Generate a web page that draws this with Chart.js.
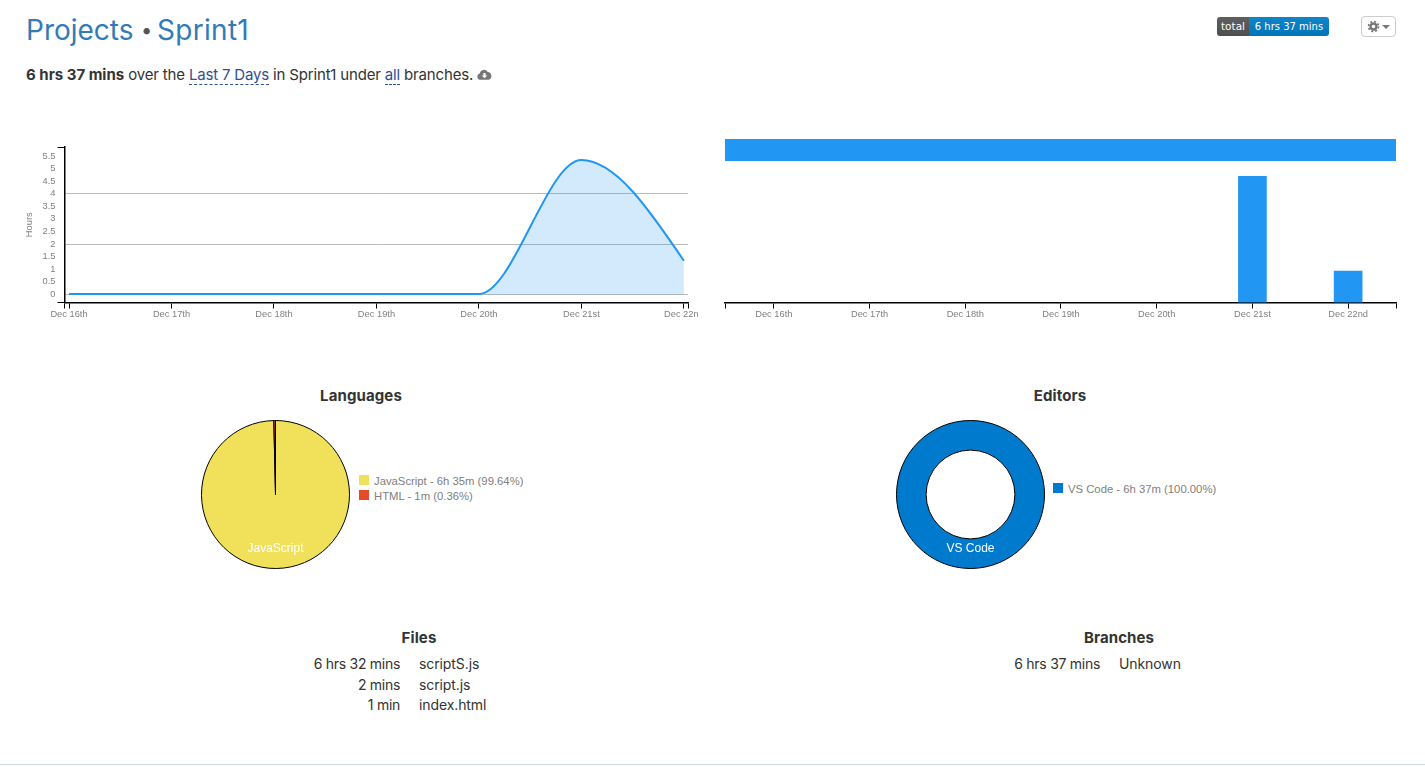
<!DOCTYPE html>
<html lang="en">
<head>
  <meta charset="UTF-8" />
  <title>Projects - Sprint1</title>
  <script src="https://cdn.jsdelivr.net/npm/chart.js"></script>
  <style>
    html, body {
      margin: 0;
      background: #fff;
      overflow: hidden;
      height: 767px;
    }

    body {
      font-family: 'Inter', sans-serif;
      color: #333;
      position: relative;
    }

    canvas, .txt, .legend {
      position: absolute;
    }

    .txt {
      white-space: nowrap;
      font-size: 14px;
      line-height: 20px;
      letter-spacing: -0.1px;
    }

    h1 {
      margin: 0;
      font-size: 28px;
      font-weight: 400;
      line-height: 36px;
      color: #337ab7;
    }

    h1 span {
      position: absolute;
      top: 12px;
      white-space: nowrap;
    }

    .sub {
      font-size: 15px;
      letter-spacing: -0.17px;
    }

    .sub b {
      letter-spacing: 0;
    }

    .sub svg {
      position: relative;
      top: 1px;
    }

    .dash {
      color: #2f4f8f;
      border-bottom: 1px dashed #2f4f8f;
    }

    .head {
      font-size: 15px;
      font-weight: 700;
      letter-spacing: 0.1px;
      transform: translateX(-50%);
    }

    .time {
      letter-spacing: -0.28px;
      transform: translateX(-100%);
    }

    .badge {
      position: absolute;
      left: 1217px;
      top: 17px;
      height: 19px;
      width: 112px;
      border-radius: 3px;
      overflow: hidden;
      color: #fff;
      font: 10px/19px 'DejaVu Sans', sans-serif;
    }

    .badge b {
      font-weight: 400;
      position: absolute;
      top: 0;
      height: 19px;
      text-align: center;
      background-image: linear-gradient(rgba(255,255,255,0.06), rgba(0,0,0,0.08));
    }

    .gear {
      position: absolute;
      left: 1361px;
      top: 16px;
      width: 33px;
      height: 19px;
      border: 1px solid #ccc;
      border-radius: 4px;
    }

    .gear i {
      position: absolute;
      right: 5px;
      top: 8px;
      border-left: 4px solid transparent;
      border-right: 4px solid transparent;
      border-top: 4px solid #777;
    }

    .gear svg {
      position: absolute;
      left: 5px;
      top: 3px;
    }

    .legend {
      font: 11.3px/14px 'Liberation Sans', sans-serif;
      color: #808080;
      white-space: nowrap;
    }

    .legend div {
      height: 15px;
      position: relative;
      padding-left: 15px;
    }

    .legend i {
      position: absolute;
      left: 0;
      top: 1px;
      width: 10px;
      height: 10px;
    }

    .footer {
      position: absolute;
      left: 0;
      right: 0;
      top: 764px;
      border-top: 1px solid #d0dde3;
    }
  </style>
</head>
<body>
  <h1><span style="left:26px">Projects</span><span style="left:141px;color:#555;font-size:20px">•</span><span style="left:157px;letter-spacing:0.3px">Sprint1</span></h1>

  <div class="badge">
    <b style="left:0;width:32px;background-color:#555;font-size:10.5px">total</b>
    <b style="left:32px;width:80px;background-color:#007ec6">6 hrs 37 mins</b>
  </div>
  <div class="gear">
    <svg width="13" height="13" viewBox="0 0 13 13">
      <circle cx="6.500" cy="6.500" r="3" fill="none" stroke="#777" stroke-width="2.400"/>
      <circle cx="6.500" cy="6.500" r="5" fill="none" stroke="#777" stroke-width="1.600" stroke-dasharray="2 1.930"/>
    </svg>
    <i></i>
  </div>

  <div class="txt sub" style="left:26px;top:65px">
    <b>6 hrs 37 mins</b> over the <span class="dash">Last 7 Days</span> in Sprint1 under <span class="dash">all</span> branches.
    <svg width="15" height="13" viewBox="0 0 14 12">
      <path fill="#777" d="M3.200 11A3 3 0 0 1 2.600 5.100 4 4 0 0 1 10 3.600 3.800 3.800 0 0 1 10.800 11Z"/>
      <path fill="#fff" d="M6 4.500h2v2.400h1.600L7 9.600 4.400 6.900H6Z"/>
    </svg>
  </div>

  <canvas id="lineChart" width="698" height="200" style="left:0;top:130px"></canvas>
  <canvas id="topBar" width="671" height="22" style="left:725px;top:139px"></canvas>
  <canvas id="barChart" width="700" height="200" style="left:715px;top:130px"></canvas>

  <div class="txt head" style="left:361px;top:386px">Languages</div>
  <canvas id="langChart" width="161" height="161" style="left:195px;top:414px"></canvas>
  <div class="legend" id="langLegend" style="left:359px;top:474px"></div>

  <div class="txt head" style="left:1060px;top:386px">Editors</div>
  <canvas id="editorChart" width="161" height="161" style="left:890px;top:414px"></canvas>
  <div class="legend" id="editorLegend" style="left:1053px;top:482px"></div>

  <div class="txt head" style="left:419px;top:628px">Files</div>
  <div id="files"></div>

  <div class="txt head" style="left:1119px;top:628px">Branches</div>
  <div id="branches"></div>

  <div class="footer"></div>

  <script>
    const dayLabels = ["Dec 16th", "Dec 17th", "Dec 18th", "Dec 19th", "Dec 20th", "Dec 21st", "Dec 22nd"];
    const dayIndex = [0, 1, 2, 3, 4, 5, 6];
    const hoursPerDay = [0.02, 0.02, 0.02, 0.02, 0.02, 5.34, 1.34];
    const barHours = [null, null, null, null, null, 5.3, 1.32];
    const yTicks = [0, 0.5, 1, 1.5, 2, 2.5, 3, 3.5, 4, 4.5, 5, 5.5];
    const yGridAt = [0, 2, 4];

    const projectName = ["Sprint1"];
    const projectHours = [6.62];

    const langNames = ["JavaScript", "HTML"];
    const langPercent = [99.64, 0.36];
    const langColors = ["#f1e05a", "#e34c26"];
    const langLegend = ["JavaScript - 6h 35m (99.64%)", "HTML - 1m (0.36%)"];

    const editorNames = ["VS Code"];
    const editorPercent = [100];
    const editorColors = ["#007acc"];
    const editorLegend = ["VS Code - 6h 37m (100.00%)"];

    const fileTimes = ["6 hrs 32 mins", "2 mins", "1 min"];
    const fileNames = ["scriptS.js", "script.js", "index.html"];
    const branchTimes = ["6 hrs 37 mins"];
    const branchNames = ["Unknown"];

    const BLUE = "#2196f3";
    const AXIS_FONT = { family: "'Liberation Sans', sans-serif", size: 9.3 };
    const LABEL_GREY = "#808080";

    // labels sit at the bottom of each ring
    const sliceLabel = {
      id: "sliceLabel",
      afterDraw(chart, args, opts) {
        const arc = chart.getDatasetMeta(0).data[0];
        const ctx = chart.ctx;
        ctx.save();
        if (opts.ring) {
          // a full circle arc gets a seam from its own border, so stroke the ring here
          ctx.strokeStyle = "#000";
          ctx.lineWidth = 1;
          [arc.outerRadius, arc.innerRadius].forEach(function (r) {
            ctx.beginPath();
            ctx.arc(arc.x, arc.y, r, 0, Math.PI * 2);
            ctx.stroke();
          });
        }
        ctx.fillStyle = "#fff";
        ctx.font = "12px 'Liberation Sans', sans-serif";
        ctx.textAlign = "center";
        ctx.textBaseline = "middle";
        ctx.fillText(opts.text, arc.x, arc.y + 54);
        ctx.restore();
      }
    };

    // d3 style end slope on the last segment, chart.js stops it at the secant
    const endSlope = {
      id: "endSlope",
      beforeDatasetsDraw(chart) {
        const line = chart.getDatasetMeta(0).dataset;
        line.updateControlPoints(chart.chartArea, "x");
        const pts = line.points;
        const last = pts[pts.length - 1];
        last.cp1y = (pts[pts.length - 2].y + last.y) / 2;
      }
    };

    function setTicks(values) {
      return function (scale) {
        scale.ticks = values.map(function (v) { return { value: v }; });
      };
    }

    new Chart(document.getElementById("lineChart"), {
      type: "line",
      data: {
        labels: dayLabels,
        datasets: [{
          data: dayIndex.map(function (d, i) { return { x: d, y: hoursPerDay[i] }; }),
          borderColor: BLUE,
          backgroundColor: "rgba(33,150,243,0.2)",
          borderWidth: 2,
          fill: "origin",
          pointRadius: 0,
          cubicInterpolationMode: "monotone"
        }]
      },
      options: {
        responsive: false,
        animation: false,
        layout: { padding: { left: 20, right: 10, top: 17, bottom: 0 } },
        plugins: { legend: { display: false }, tooltip: { enabled: false } },
        scales: {
          x: {
            type: "linear",
            min: -0.044,
            max: 6.04,
            afterBuildTicks: setTicks([-0.044].concat(dayIndex, [6.04])),
            afterFit: function (scale) { scale.height = 27.5; },
            border: { color: "#000", width: 1.5 },
            grid: { drawOnChartArea: false, tickLength: 6, tickColor: "#000" },
            ticks: {
              autoSkip: false,
              maxRotation: 0,
              padding: 0,
              color: LABEL_GREY,
              font: AXIS_FONT,
              callback: function (v) { return dayIndex.includes(v) ? dayLabels[v] : ""; }
            }
          },
          y: {
            min: -0.32,
            max: 5.857,
            afterBuildTicks: setTicks([-0.32].concat(yTicks, [5.857])),
            afterFit: function (scale) { scale.width = 44.5; },
            border: { color: "#000", width: 1.5 },
            title: {
              display: true,
              text: "Hours",
              color: LABEL_GREY,
              font: AXIS_FONT,
              padding: { top: 4, bottom: 0 }
            },
            grid: {
              tickLength: 7,
              color: function (c) { return c.tick && yGridAt.includes(c.tick.value) ? "#bbb" : "transparent"; },
              tickColor: function (c) { return c.tick && !yTicks.includes(c.tick.value) ? "#000" : "transparent"; }
            },
            ticks: {
              autoSkip: false,
              padding: 2,
              color: LABEL_GREY,
              font: AXIS_FONT,
              callback: function (v) { return yTicks.includes(v) ? String(v) : ""; }
            }
          }
        }
      },
      plugins: [endSlope]
    });

    new Chart(document.getElementById("topBar"), {
      type: "bar",
      data: {
        labels: projectName,
        datasets: [{ data: projectHours, backgroundColor: BLUE, barPercentage: 1, categoryPercentage: 1 }]
      },
      options: {
        indexAxis: "y",
        responsive: false,
        animation: false,
        plugins: { legend: { display: false }, tooltip: { enabled: false } },
        scales: {
          x: { display: false, min: 0, max: projectHours[0] },
          y: { display: false }
        }
      }
    });

    new Chart(document.getElementById("barChart"), {
      type: "bar",
      data: {
        labels: dayLabels,
        datasets: [{
          data: dayIndex.map(function (d, i) { return { x: d, y: barHours[i] }; }),
          backgroundColor: BLUE,
          barThickness: 28
        }]
      },
      options: {
        responsive: false,
        animation: false,
        layout: { padding: { left: 10, right: 19, top: 0, bottom: 0 } },
        plugins: { legend: { display: false }, tooltip: { enabled: false } },
        scales: {
          x: {
            type: "linear",
            min: -0.51,
            max: 6.5,
            offset: false,
            afterBuildTicks: setTicks([-0.51].concat(dayIndex, [6.5])),
            afterFit: function (scale) { scale.height = 27.5; },
            border: { color: "#000", width: 1.5 },
            grid: { offset: false, drawOnChartArea: false, tickLength: 6, color: "#000", tickColor: "#000" },
            ticks: {
              autoSkip: false,
              maxRotation: 0,
              padding: 0,
              color: LABEL_GREY,
              font: AXIS_FONT,
              callback: function (v) { return dayIndex.includes(v) ? dayLabels[v] : ""; }
            }
          },
          y: { display: false, min: 0, max: 7.25 }
        }
      }
    });

    new Chart(document.getElementById("langChart"), {
      type: "pie",
      data: {
        labels: langNames,
        datasets: [{ data: langPercent, backgroundColor: langColors, borderColor: "#000", borderWidth: 1 }]
      },
      options: {
        responsive: false,
        animation: false,
        radius: 74,
        plugins: { legend: { display: false }, tooltip: { enabled: false }, sliceLabel: { text: langNames[0] } }
      },
      plugins: [sliceLabel]
    });

    new Chart(document.getElementById("editorChart"), {
      type: "doughnut",
      data: {
        labels: editorNames,
        datasets: [{ data: editorPercent, backgroundColor: editorColors, borderWidth: 0 }]
      },
      options: {
        responsive: false,
        animation: false,
        radius: 74,
        cutout: "60%",
        plugins: { legend: { display: false }, tooltip: { enabled: false }, sliceLabel: { text: editorNames[0], ring: true } }
      },
      plugins: [sliceLabel]
    });

    function fillLegend(id, texts, colors) {
      const el = document.getElementById(id);
      texts.forEach(function (t, i) {
        const row = document.createElement("div");
        const box = document.createElement("i");
        box.style.background = colors[i];
        row.appendChild(box);
        row.appendChild(document.createTextNode(t));
        el.appendChild(row);
      });
    }

    fillLegend("langLegend", langLegend, langColors);
    fillLegend("editorLegend", editorLegend, editorColors);

    function fillRows(id, times, names, timeRight, nameLeft, top) {
      const el = document.getElementById(id);
      times.forEach(function (t, i) {
        const a = document.createElement("div");
        a.className = "txt time";
        a.style.left = timeRight + "px";
        a.style.top = (top + i * 20.5) + "px";
        a.textContent = t;
        const b = document.createElement("div");
        b.className = "txt";
        b.style.left = nameLeft + "px";
        b.style.top = (top + i * 20.5) + "px";
        b.textContent = names[i];
        el.appendChild(a);
        el.appendChild(b);
      });
    }

    fillRows("files", fileTimes, fileNames, 400, 419, 654);
    fillRows("branches", branchTimes, branchNames, 1100, 1119, 653.5);
  </script>
</body>
</html>
